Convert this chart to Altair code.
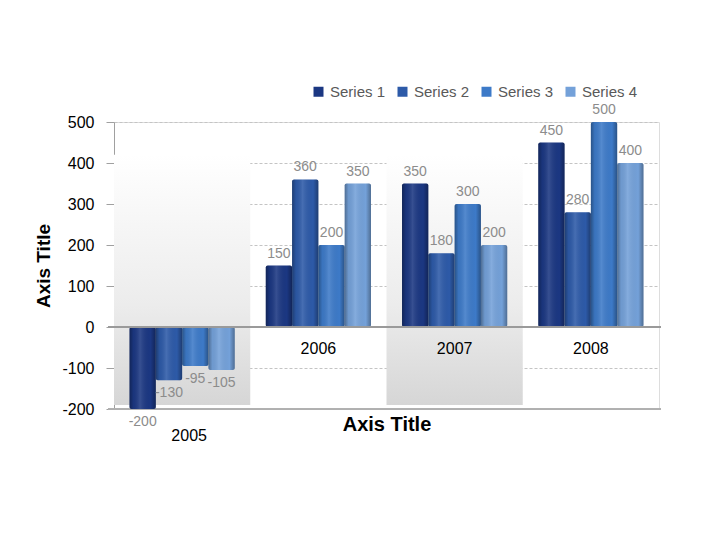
import altair as alt
import pandas as pd

years = ["2005", "2006", "2007", "2008"]
series_names = ["Series 1", "Series 2", "Series 3", "Series 4"]
series1 = [-200, 150, 350, 450]
series2 = [-130, 360, 180, 280]
series3 = [-95, 200, 300, 500]
series4 = [-105, 350, 200, 400]
shaded_years = ["2005", "2007"]
y_ticks = [-200, -100, 0, 100, 200, 300, 400, 500]
colors = ["#1b3782", "#2d5aa8", "#3d7ac8", "#74a1d9"]

rows = []
for name, vals in zip(series_names, [series1, series2, series3, series4]):
    for yr, v in zip(years, vals):
        rows.append({"year": yr, "series": name, "value": v})
df = pd.DataFrame(rows)

cat = df.groupby("year", as_index=False)["value"].min()
cat["ly"] = cat["value"].clip(upper=0)
shade = pd.DataFrame({"year": shaded_years})

W, H = 545, 287
FONT = "Liberation Sans"
LFONT = "'Liberation Sans Narrow', 'Arial Narrow', 'Liberation Sans'"

xsc = alt.Scale(domain=years, paddingInner=0, paddingOuter=0)
ysc = alt.Scale(domain=[-200, 500], nice=False)
xoff = alt.XOffset("series:N", scale=alt.Scale(domain=series_names, paddingInner=0, paddingOuter=0.59))

bg = alt.Chart(shade).mark_rect(
    color=alt.Gradient(gradient="linear", x1=0, y1=0, x2=0, y2=1,
                       stops=[alt.GradientStop(offset=0, color="#ffffff"),
                              alt.GradientStop(offset=0.6, color="#ececec"),
                              alt.GradientStop(offset=1, color="#d6d6d6")])
).encode(
    x=alt.X("year:N", scale=xsc, axis=alt.Axis(title="Axis Title", labels=False, ticks=False, domain=False,
                                              titleFontSize=20, titleFont=FONT, titleFontWeight="bold",
                                              titleColor="#000000", titlePadding=5)),
    y=alt.datum(420, scale=ysc),
    y2=alt.datum(-190),
)

bars = alt.Chart(df).mark_bar(cornerRadius=2).encode(
    x=alt.X("year:N", scale=xsc),
    xOffset=xoff,
    y=alt.Y("value:Q", scale=ysc,
            axis=alt.Axis(values=y_ticks, title="Axis Title", labelFontSize=16, labelFont=FONT,
                          labelExpr="toString(datum.value)",
                          labelColor="#000000", titleFontSize=19, titleFont=FONT, titleFontWeight="bold",
                          titleColor="#000000", titlePadding=8, grid=True, gridColor="#c4c4c4",
                          gridDash=[3, 2], domainColor="#a0a0a0", tickColor="#a0a0a0", tickSize=8,
                          labelPadding=12)),
    y2=alt.datum(0),
    color=alt.Color("series:N", scale=alt.Scale(domain=series_names, range=colors),
                    legend=alt.Legend(title=None, orient="none", legendX=197, legendY=-38,
                                      direction="horizontal", columns=4, symbolType="square",
                                      symbolSize=100, symbolStrokeWidth=0, labelFontSize=15,
                                      labelFont=FONT, labelColor="#595959", columnPadding=9,
                                      labelOffset=4)),
)

shine = alt.Chart(df).mark_bar(
    cornerRadius=2,
    color=alt.Gradient(gradient="linear", x1=0, y1=0, x2=1, y2=0,
                       stops=[alt.GradientStop(offset=0, color="rgba(0,0,0,0.32)"),
                              alt.GradientStop(offset=0.15, color="rgba(0,0,0,0.05)"),
                              alt.GradientStop(offset=0.4, color="rgba(255,255,255,0.12)"),
                              alt.GradientStop(offset=0.8, color="rgba(0,0,0,0.0)"),
                              alt.GradientStop(offset=1, color="rgba(0,0,0,0.32)")])
).encode(
    x=alt.X("year:N", scale=xsc),
    xOffset=xoff,
    y=alt.Y("value:Q", scale=ysc),
    y2=alt.datum(0),
)

zero = alt.Chart(df).mark_rule(color="#9a9a9a", strokeWidth=1.5).encode(
    y=alt.datum(0, scale=ysc), x=alt.value(-6), x2=alt.value(W + 2))
floor = alt.Chart(df).mark_rule(color="#b0b0b0", strokeWidth=1).encode(
    y=alt.datum(-200, scale=ysc), x=alt.value(-6), x2=alt.value(W + 2))

lab_pos = alt.Chart(df).transform_filter("datum.value >= 0").transform_calculate(
    lbl="toString(datum.value)").mark_text(
    dy=-12, baseline="middle", fontSize=14, font=LFONT, color="#8c8c8c"
).encode(x=alt.X("year:N", scale=xsc), xOffset=xoff, y=alt.Y("value:Q", scale=ysc), text="lbl:N")
lab_neg = alt.Chart(df).transform_filter("datum.value < 0").transform_calculate(
    lbl="toString(datum.value)").mark_text(
    dy=13, baseline="middle", fontSize=14, font=LFONT, color="#8c8c8c"
).encode(x=alt.X("year:N", scale=xsc), xOffset=xoff, y=alt.Y("value:Q", scale=ysc), text="lbl:N")

cat0 = alt.Chart(cat).transform_filter("datum.ly >= 0").mark_text(
    dy=22, baseline="middle", fontSize=16, font=FONT, color="#000000"
).encode(x=alt.X("year:N", scale=xsc), y=alt.Y("ly:Q", scale=ysc), text="year:N")
catn = alt.Chart(cat).transform_filter("datum.ly < 0").mark_text(
    dy=27, dx=7, baseline="middle", fontSize=16, font=FONT, color="#000000"
).encode(x=alt.X("year:N", scale=xsc), y=alt.Y("ly:Q", scale=ysc), text="year:N")

chart = alt.layer(bg, floor, bars, shine, zero, lab_pos, lab_neg, cat0, catn).properties(
    width=W, height=H,
    autosize=alt.AutoSizeParams(type="none"),
    padding={"left": 106, "top": 114, "right": 50, "bottom": 110},
).configure_view(stroke=None).configure(background="#ffffff")

chart.save("out.html", embed_options={"renderer": "svg", "actions": False})
